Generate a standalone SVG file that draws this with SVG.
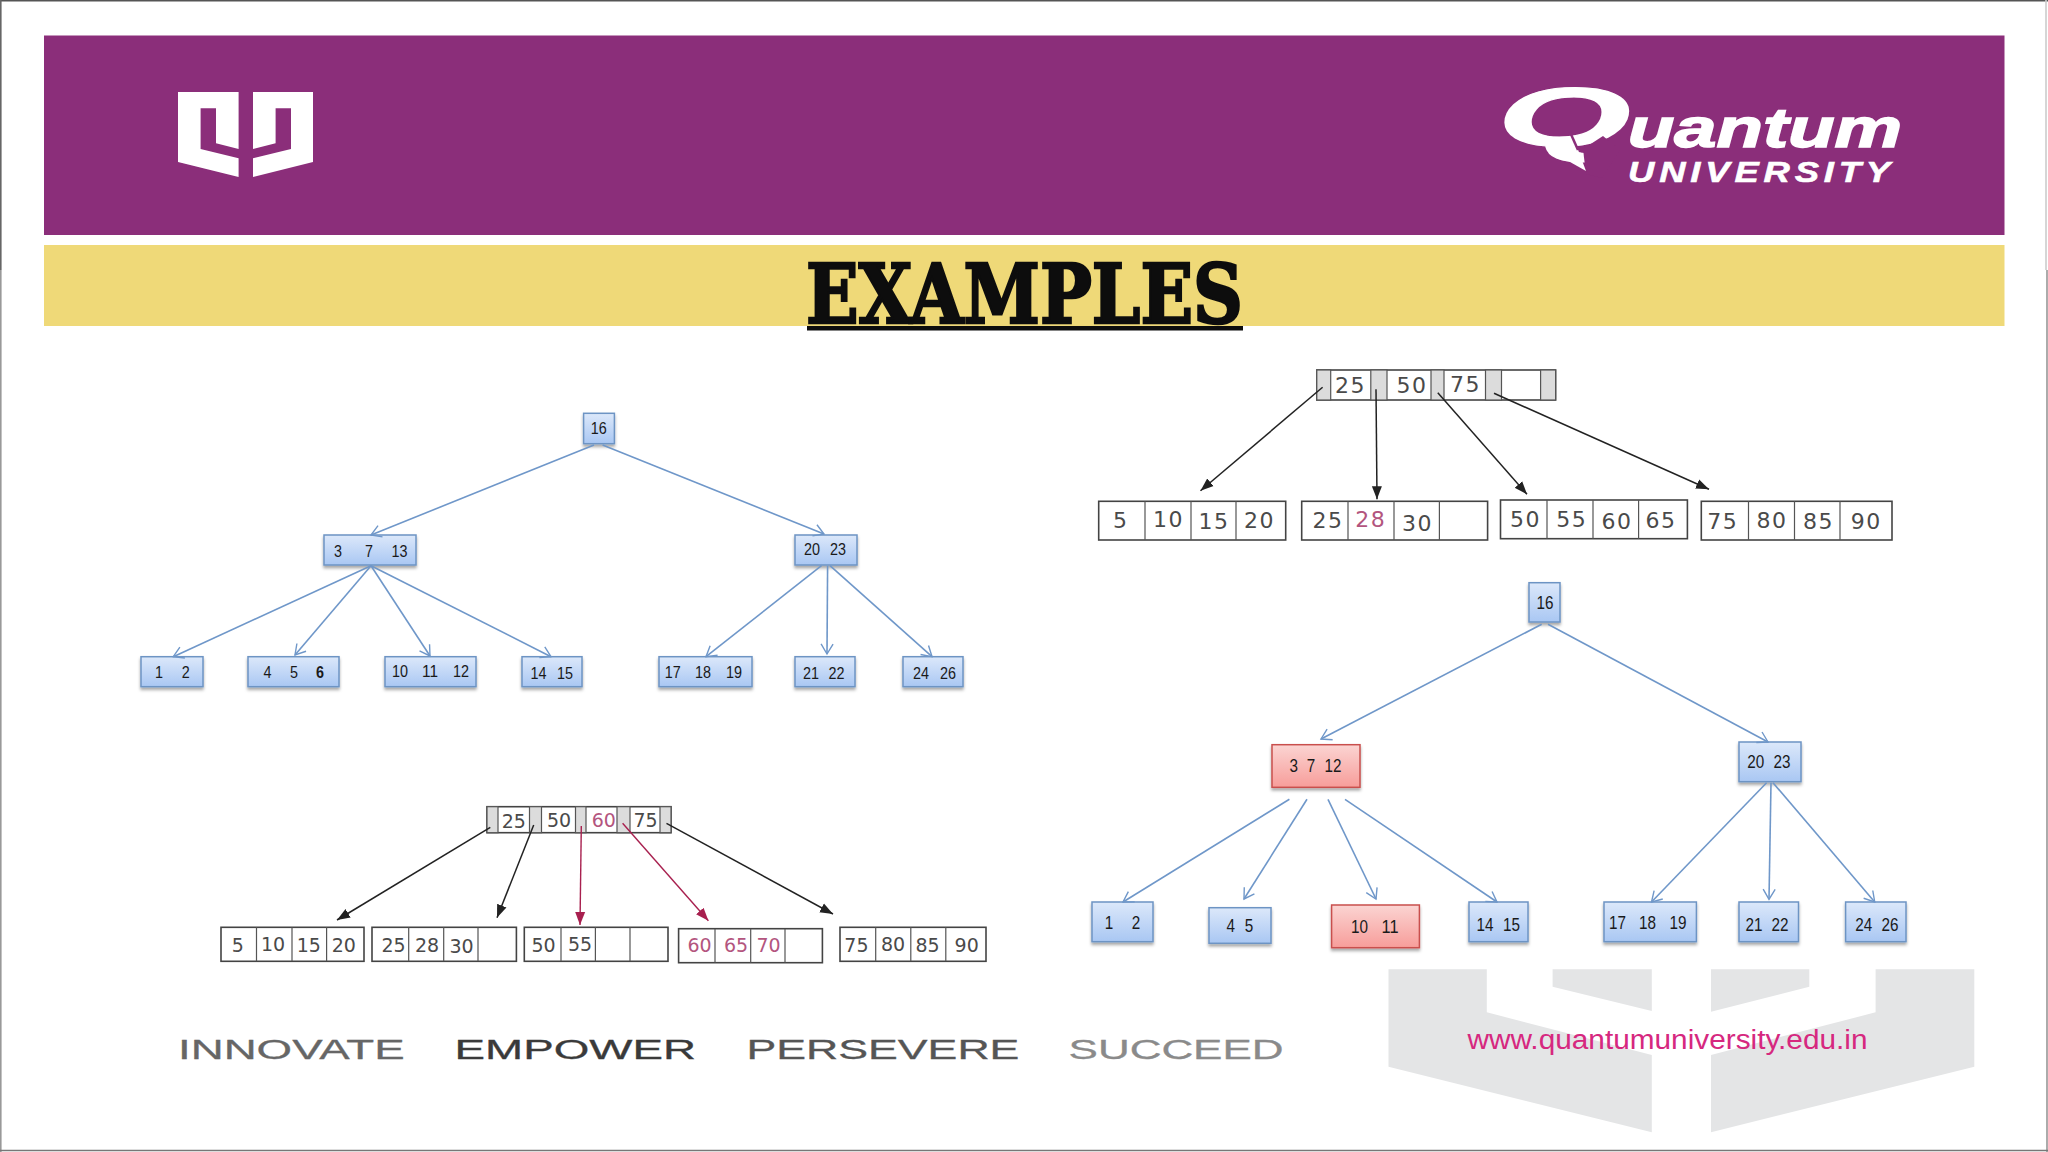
<svg xmlns="http://www.w3.org/2000/svg" width="2048" height="1152" viewBox="0 0 2048 1152">
<defs>
<linearGradient id="gb" x1="0" y1="0" x2="0" y2="1"><stop offset="0" stop-color="#dce8fa"/><stop offset="1" stop-color="#a9c7f3"/></linearGradient>
<linearGradient id="gr" x1="0" y1="0" x2="0" y2="1"><stop offset="0" stop-color="#fbd4d2"/><stop offset="1" stop-color="#f79d9a"/></linearGradient>
<filter id="sh" x="-20%" y="-20%" width="140%" height="150%"><feDropShadow dx="0" dy="2.5" stdDeviation="1.6" flood-color="#000" flood-opacity=".35"/></filter>
<marker id="ao" markerUnits="userSpaceOnUse" markerWidth="14" markerHeight="16" refX="12" refY="8" orient="auto" viewBox="0 0 14 16"><path d="M2,2 L12,8 L2,14" fill="none" stroke="#6f97c9" stroke-width="1.4"/></marker>
<marker id="ak" markerUnits="userSpaceOnUse" markerWidth="14" markerHeight="12" refX="13" refY="6" orient="auto" viewBox="0 0 14 12"><path d="M0,1 L13,6 L0,11 Z" fill="#222"/></marker>
<marker id="ac" markerUnits="userSpaceOnUse" markerWidth="14" markerHeight="12" refX="13" refY="6" orient="auto" viewBox="0 0 14 12"><path d="M0,1 L13,6 L0,11 Z" fill="#a8204f"/></marker>
</defs>
<style>
.nb{fill:url(#gb);stroke:#6d94c4;stroke-width:1.5;filter:url(#sh)}
.nr{fill:url(#gr);stroke:#c9504e;stroke-width:1.5;filter:url(#sh)}
.t1,.t2{font-family:"Liberation Sans",Arial,sans-serif;fill:#1a1a1a}
.t1{font-size:17px}
.t2{font-size:19px}
.eb{stroke:#6f97c9;stroke-width:1.6;fill:none;marker-end:url(#ao)}
.ek{stroke:#222;stroke-width:1.5;fill:none;marker-end:url(#ak)}
.ec{stroke:#a8204f;stroke-width:1.4;fill:none;marker-end:url(#ac)}
.cell{fill:#fff;stroke:#444;stroke-width:1.6}
.ptr{fill:#dcdcdc;stroke:#555;stroke-width:1.2}
.div{stroke:#555;stroke-width:1.2}
.k1,.k2{font-family:"DejaVu Sans",sans-serif;fill:#4a4a4a;text-anchor:middle}
.k1{font-size:22px;letter-spacing:1.5px}
.k2{font-size:19px}
.pk{fill:#b3557e}
.mark{fill:#e4e5e6}
.wd{font-family:"Liberation Sans",Arial,sans-serif;font-size:27px;stroke-width:.3}
</style>
<rect width="2048" height="1152" fill="#fff"/>
<path d="M0,0.8H2048" stroke="#555" stroke-width="1.6"/>
<path d="M0.8,0V270" stroke="#666" stroke-width="1.6"/>
<path d="M0.8,270V1152" stroke="#999" stroke-width="1.6"/>
<path d="M2046,0V270" stroke="#ccc" stroke-width="1.6"/>
<path d="M2047,270V1152" stroke="#888" stroke-width="1.4"/>
<path d="M0,1150.5H2048" stroke="#777" stroke-width="1.6"/>

<rect x="44" y="35.5" width="1960.5" height="199.5" fill="#8b2e7a"/>
<rect x="44" y="245" width="1960.5" height="81" fill="#efd978"/>

<g fill="#fff">
<path d="M178,92H238.6V149L216,143.3V108.3H200.6V149L238.6,158.3V177L178,162Z"/>
<path d="M313,92H253V149L275.6,143.3V108.3H291V149L253,158.3V177L313,162Z"/>
<text font-family="'Liberation Sans',Arial,sans-serif" font-weight="bold" font-style="italic" stroke="#fff"><tspan x="1497" y="146" font-size="84" textLength="134" lengthAdjust="spacingAndGlyphs">Q</tspan><tspan x="1628" y="147" font-size="55" stroke-width="1.5" textLength="274" lengthAdjust="spacingAndGlyphs">uantum</tspan></text>
<path fill="#8b2e7a" d="M1583,149L1603,136L1620,150L1602,178L1586,174Z"/>
<path d="M1547,149L1586,171L1577,147L1562,140Z"/>
<path fill="none" stroke="#8b2e7a" stroke-width="2.5" d="M1570,132L1578,150"/>
<text x="1628" y="182" font-family="'Liberation Sans',Arial,sans-serif" font-weight="bold" font-style="italic" font-size="30" letter-spacing="4" stroke="#fff" stroke-width=".6" textLength="267" lengthAdjust="spacingAndGlyphs">UNIVERSITY</text>
</g>

<text x="806" y="323" font-family="'DejaVu Serif',serif" font-weight="bold" font-size="83" fill="#0d0d0d" stroke="#0d0d0d" stroke-width="2.6" textLength="437" lengthAdjust="spacingAndGlyphs">EXAMPLES</text>
<rect x="807" y="326" width="436" height="4.5" fill="#0d0d0d"/>

<g id="t1-root"><rect class="nb" x="583.6" y="413.3" width="30.8" height="30.4"/><text class="t1" y="434"><tspan x="590.7" textLength="16" lengthAdjust="spacingAndGlyphs">16</tspan></text></g>
<g id="t1-a"><rect class="nb" x="324" y="535" width="92" height="30"/><text class="t1" y="556.5"><tspan x="334" textLength="8" lengthAdjust="spacingAndGlyphs">3</tspan> <tspan x="365" textLength="8" lengthAdjust="spacingAndGlyphs">7</tspan> <tspan x="391.5" textLength="16" lengthAdjust="spacingAndGlyphs">13</tspan></text></g>
<g id="t1-b"><rect class="nb" x="795" y="535" width="62" height="30"/><text class="t1" y="555"><tspan x="804" textLength="16" lengthAdjust="spacingAndGlyphs">20</tspan> <tspan x="830" textLength="16" lengthAdjust="spacingAndGlyphs">23</tspan></text></g>
<g id="t1-l1"><rect class="nb" x="141" y="656.7" width="62" height="30"/><text class="t1" y="677.7"><tspan x="155" textLength="8" lengthAdjust="spacingAndGlyphs">1</tspan> <tspan x="181.7" textLength="8" lengthAdjust="spacingAndGlyphs">2</tspan></text></g>
<g id="t1-l2"><rect class="nb" x="248" y="656.7" width="91" height="30"/><text class="t1" y="677.7"><tspan x="263.6" textLength="8" lengthAdjust="spacingAndGlyphs">4</tspan> <tspan x="290" textLength="8" lengthAdjust="spacingAndGlyphs">5</tspan> <tspan x="316" font-weight="bold" textLength="8" lengthAdjust="spacingAndGlyphs">6</tspan></text></g>
<g id="t1-l3"><rect class="nb" x="385" y="656.7" width="91" height="30"/><text class="t1" y="676.7"><tspan x="392" textLength="16" lengthAdjust="spacingAndGlyphs">10</tspan> <tspan x="422" textLength="16" lengthAdjust="spacingAndGlyphs">11</tspan> <tspan x="453" textLength="16" lengthAdjust="spacingAndGlyphs">12</tspan></text></g>
<g id="t1-l4"><rect class="nb" x="522" y="656.7" width="60" height="30"/><text class="t1" y="678.7"><tspan x="530.6" textLength="16" lengthAdjust="spacingAndGlyphs">14</tspan> <tspan x="557" textLength="16" lengthAdjust="spacingAndGlyphs">15</tspan></text></g>
<g id="t1-l5"><rect class="nb" x="659" y="656.7" width="93" height="30"/><text class="t1" y="677.7"><tspan x="664.7" textLength="16" lengthAdjust="spacingAndGlyphs">17</tspan> <tspan x="695" textLength="16" lengthAdjust="spacingAndGlyphs">18</tspan> <tspan x="726" textLength="16" lengthAdjust="spacingAndGlyphs">19</tspan></text></g>
<g id="t1-l6"><rect class="nb" x="795" y="656.7" width="60" height="30"/><text class="t1" y="678.7"><tspan x="803" textLength="16" lengthAdjust="spacingAndGlyphs">21</tspan> <tspan x="828.6" textLength="16" lengthAdjust="spacingAndGlyphs">22</tspan></text></g>
<g id="t1-l7"><rect class="nb" x="903" y="656.7" width="60" height="30"/><text class="t1" y="678.7"><tspan x="913" textLength="16" lengthAdjust="spacingAndGlyphs">24</tspan> <tspan x="940" textLength="16" lengthAdjust="spacingAndGlyphs">26</tspan></text></g>

<g id="t2-root"><rect class="nb" x="1529" y="582.7" width="31" height="39.3"/><text class="t2" y="609.3"><tspan x="1536.5" textLength="17" lengthAdjust="spacingAndGlyphs">16</tspan></text></g>
<g id="t2-a"><rect class="nr" x="1272" y="744.7" width="88" height="42.6"/><text class="t2" y="772.3"><tspan x="1289.5" textLength="8.5" lengthAdjust="spacingAndGlyphs">3</tspan> <tspan x="1306.8" textLength="8.5" lengthAdjust="spacingAndGlyphs">7</tspan> <tspan x="1324.5" textLength="17" lengthAdjust="spacingAndGlyphs">12</tspan></text></g>
<g id="t2-b"><rect class="nb" x="1739" y="742" width="62" height="39.7"/><text class="t2" y="768.3"><tspan x="1747.2" textLength="17" lengthAdjust="spacingAndGlyphs">20</tspan> <tspan x="1773.5" textLength="17" lengthAdjust="spacingAndGlyphs">23</tspan></text></g>
<g id="t2-l1"><rect class="nb" x="1092" y="902" width="61" height="39.7"/><text class="t2" y="929"><tspan x="1104.8" textLength="8.5" lengthAdjust="spacingAndGlyphs">1</tspan> <tspan x="1131.8" textLength="8.5" lengthAdjust="spacingAndGlyphs">2</tspan></text></g>
<g id="t2-l2"><rect class="nb" x="1209" y="907.7" width="62" height="35.6"/><text class="t2" y="931.7"><tspan x="1226.5" textLength="8.5" lengthAdjust="spacingAndGlyphs">4</tspan> <tspan x="1244.8" textLength="8.5" lengthAdjust="spacingAndGlyphs">5</tspan></text></g>
<g id="t2-l3"><rect class="nr" x="1331.6" y="905" width="87.8" height="42.7"/><text class="t2" y="933.3"><tspan x="1351.1" textLength="17" lengthAdjust="spacingAndGlyphs">10</tspan> <tspan x="1381.5" textLength="17" lengthAdjust="spacingAndGlyphs">11</tspan></text></g>
<g id="t2-l4"><rect class="nb" x="1469" y="902" width="59" height="39.7"/><text class="t2" y="930.7"><tspan x="1476.5" textLength="17" lengthAdjust="spacingAndGlyphs">14</tspan> <tspan x="1503.1" textLength="17" lengthAdjust="spacingAndGlyphs">15</tspan></text></g>
<g id="t2-l5"><rect class="nb" x="1604" y="902" width="92.4" height="39.7"/><text class="t2" y="929"><tspan x="1608.9" textLength="17" lengthAdjust="spacingAndGlyphs">17</tspan> <tspan x="1639.1" textLength="17" lengthAdjust="spacingAndGlyphs">18</tspan> <tspan x="1669.5" textLength="17" lengthAdjust="spacingAndGlyphs">19</tspan></text></g>
<g id="t2-l6"><rect class="nb" x="1739" y="902" width="59.5" height="39.7"/><text class="t2" y="930.7"><tspan x="1745.5" textLength="17" lengthAdjust="spacingAndGlyphs">21</tspan> <tspan x="1771.5" textLength="17" lengthAdjust="spacingAndGlyphs">22</tspan></text></g>
<g id="t2-l7"><rect class="nb" x="1845.6" y="902" width="60.4" height="39.7"/><text class="t2" y="930.7"><tspan x="1855.2" textLength="17" lengthAdjust="spacingAndGlyphs">24</tspan> <tspan x="1881.5" textLength="17" lengthAdjust="spacingAndGlyphs">26</tspan></text></g>

<g id="b1-root">
<rect class="cell" x="1316.8" y="370" width="238.8" height="30"/>
<rect class="ptr" x="1316.8" y="370" width="13.9" height="30"/><rect class="ptr" x="1370.8" y="370" width="16.2" height="30"/><rect class="ptr" x="1431" y="370" width="13" height="30"/><rect class="ptr" x="1485.5" y="370" width="16" height="30"/><rect class="ptr" x="1540.6" y="370" width="15" height="30"/>
<text class="k1" x="1350.5" y="393">25</text><text class="k1" x="1412" y="393">50</text><text class="k1" x="1465.6" y="391.5">75</text>
</g>
<g id="b1-c1"><rect class="cell" x="1098.7" y="501.3" width="187" height="38.7"/><path class="div" d="M1145,501.3V540M1191,501.3V540M1236,501.3V540"/><text class="k1" x="1120.7" y="528.3">5</text><text class="k1" x="1168.4" y="526.7">10</text><text class="k1" x="1214" y="529">15</text><text class="k1" x="1259.4" y="528.3">20</text></g>
<g id="b1-c2"><rect class="cell" x="1301.7" y="501.3" width="185.9" height="38.7"/><path class="div" d="M1348,501.3V540M1394,501.3V540M1439.4,501.3V540"/><text class="k1" x="1328" y="528.3">25</text><text class="k1 pk" x="1370.8" y="527.3">28</text><text class="k1" x="1417.4" y="530.7">30</text></g>
<g id="b1-c3"><rect class="cell" x="1500.5" y="500" width="186.9" height="38.7"/><path class="div" d="M1547,500V538.7M1593,500V538.7M1638.6,500V538.7"/><text class="k1" x="1525.6" y="527.3">50</text><text class="k1" x="1571.7" y="526.7">55</text><text class="k1" x="1617" y="529">60</text><text class="k1" x="1661" y="528.3">65</text></g>
<g id="b1-c4"><rect class="cell" x="1701.3" y="501.3" width="190.7" height="38.7"/><path class="div" d="M1748.5,501.3V540M1794.5,501.3V540M1840,501.3V540"/><text class="k1" x="1722.7" y="529">75</text><text class="k1" x="1772" y="527.7">80</text><text class="k1" x="1818.6" y="529">85</text><text class="k1" x="1866.3" y="529">90</text></g>

<g id="b2-root">
<rect class="cell" x="487" y="806.7" width="184" height="26"/>
<rect class="ptr" x="487" y="806.7" width="11" height="26"/><rect class="ptr" x="529.5" y="806.7" width="12" height="26"/><rect class="ptr" x="575.5" y="806.7" width="10.5" height="26"/><rect class="ptr" x="617" y="806.7" width="13" height="26"/><rect class="ptr" x="660" y="806.7" width="11" height="26"/>
<text class="k2" x="513.8" y="828.3">25</text><text class="k2" x="559" y="827.3">50</text><text class="k2 pk" x="603.8" y="827.3">60</text><text class="k2" x="645.6" y="827.3">75</text>
</g>
<g id="b2-c1"><rect class="cell" x="221" y="927.3" width="143" height="34"/><path class="div" d="M256.5,927.3V961.3M292,927.3V961.3M326.6,927.3V961.3"/><text class="k2" x="237.7" y="952.3">5</text><text class="k2" x="273" y="951">10</text><text class="k2" x="308.8" y="952.3">15</text><text class="k2" x="343.8" y="951.7">20</text></g>
<g id="b2-c2"><rect class="cell" x="372" y="927.3" width="144.4" height="34"/><path class="div" d="M408.7,927.3V961.3M443.7,927.3V961.3M478,927.3V961.3"/><text class="k2" x="393.5" y="951.7">25</text><text class="k2" x="427" y="951.7">28</text><text class="k2" x="461.5" y="953.3">30</text></g>
<g id="b2-c3"><rect class="cell" x="524.3" y="927.3" width="143.7" height="34"/><path class="div" d="M561,927.3V961.3M595.4,927.3V961.3M630,927.3V961.3"/><text class="k2" x="543.6" y="951.7">50</text><text class="k2" x="580" y="951">55</text></g>
<g id="b2-c4"><rect class="cell" x="678.6" y="928.7" width="143.8" height="34"/><path class="div" d="M715,928.7V962.7M750.7,928.7V962.7M785,928.7V962.7"/><text class="k2 pk" x="699.5" y="952.3">60</text><text class="k2 pk" x="736" y="952.3">65</text><text class="k2 pk" x="768.5" y="951.7">70</text></g>
<g id="b2-c5"><rect class="cell" x="840" y="927.3" width="146" height="34"/><path class="div" d="M875.7,927.3V961.3M910.8,927.3V961.3M945.8,927.3V961.3"/><text class="k2" x="856.4" y="951.7">75</text><text class="k2" x="893" y="951">80</text><text class="k2" x="927.5" y="952.3">85</text><text class="k2" x="966.7" y="952.3">90</text></g>

<g id="connectors">
<path class="eb" d="M594,445L371,535"/><path class="eb" d="M602.6,445L824,534"/>
<path class="eb" d="M371,565.7L173.3,656.7"/><path class="eb" d="M371,565.7L295,655"/><path class="eb" d="M371,565.7L430,656"/><path class="eb" d="M371,565.7L551,656.7"/>
<path class="eb" d="M821.5,565.7L706,656.7"/><path class="eb" d="M827.6,565.7L827,654"/><path class="eb" d="M830,565.7L932,656.7"/>
<path class="eb" d="M1541.7,624.3L1321,739"/><path class="eb" d="M1548,624.3L1768,742"/>
<path class="eb" d="M1289.4,799.3L1123,902"/><path class="eb" d="M1307,799.3L1244,899"/><path class="eb" d="M1328,799.3L1376,899"/><path class="eb" d="M1345,799.3L1497,902"/>
<path class="eb" d="M1766.6,782.7L1651.5,902"/><path class="eb" d="M1771,782.7L1769,899.3"/><path class="eb" d="M1773,782.7L1874.7,902"/>
<path class="ek" d="M1322.6,387.3L1200.5,490.7"/><path class="ek" d="M1376,389.3L1377,499.3"/><path class="ek" d="M1437.8,392.7L1527,494.3"/><path class="ek" d="M1494,393.3L1709,489.3"/>
<path class="ek" d="M490.3,827.3L337,920"/><path class="ek" d="M533.7,825L497,917.7"/><path class="ec" d="M581.3,826L580,925"/><path class="ec" d="M622.6,823.3L708.4,920.7"/><path class="ek" d="M666.5,823.3L833,914"/>
</g>

<path class="mark" d="M1388.5,969.3H1486.8V1012.3L1651.8,1055V1132.3L1388.5,1066.7Z"/>
<path class="mark" d="M1552.6,969.3H1651.8V1011L1552.6,986.7Z"/>
<path class="mark" d="M1711,969.3H1809.3V986.7L1711,1011.7Z"/>
<path class="mark" d="M1875.6,969.3H1974.3V1066.7L1711,1132.3V1055L1875.6,1012.3Z"/>
<text x="1467.5" y="1048.5" font-family="'Liberation Sans',Arial,sans-serif" font-size="27" fill="#d6287f" textLength="400" lengthAdjust="spacingAndGlyphs">www.quantumuniversity.edu.in</text>

<text class="wd" x="178" y="1059.3" fill="#666" stroke="#666" textLength="226.6" lengthAdjust="spacingAndGlyphs">INNOVATE</text>
<text class="wd" x="454.5" y="1059.3" fill="#3a3a3a" stroke="#3a3a3a" textLength="241.5" lengthAdjust="spacingAndGlyphs">EMPOWER</text>
<text class="wd" x="746.5" y="1059.3" fill="#555" stroke="#555" textLength="272.9" lengthAdjust="spacingAndGlyphs">PERSEVERE</text>
<text class="wd" x="1068.6" y="1059.3" fill="#8a8a8a" stroke="#8a8a8a" textLength="214.9" lengthAdjust="spacingAndGlyphs">SUCCEED</text>
</svg>
